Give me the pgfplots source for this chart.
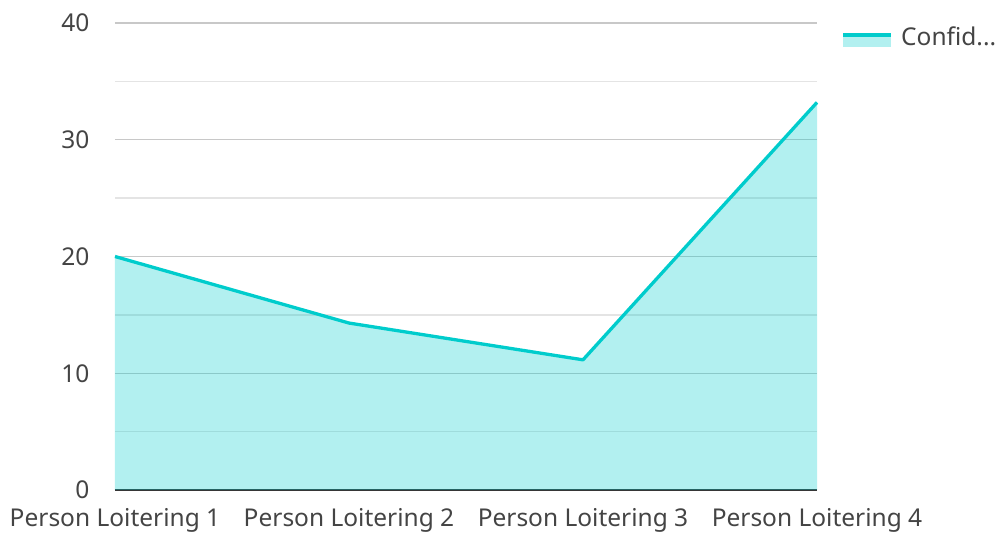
\documentclass[border=0pt]{standalone}
\usepackage{pgfplots}
\pgfplotsset{compat=1.18}
\usepackage{fontspec}
\setmainfont{Noto Sans}
\definecolor{linec}{RGB}{0,204,204}
\definecolor{txt}{RGB}{68,68,68}
\definecolor{majg}{RGB}{200,200,200}
\definecolor{ming}{RGB}{228,228,228}
\begin{document}
\begin{tikzpicture}[x=1pt,y=1pt]
\useasboundingbox (0,0) rectangle (999,533);
\begin{axis}[
  at={(115pt,43pt)}, anchor=south west,
  scale only axis, width=702pt, height=467pt,
  xmin=0, xmax=3, ymin=0, ymax=40,
  xtick={0,1,2,3},
  xticklabels={Person Loitering 1,Person Loitering 2,Person Loitering 3,Person Loitering 4},
  ytick={0,10,20,30,40},
  minor ytick={5,15,25,35},
  ymajorgrids, yminorgrids,
  major grid style={majg, line width=1.4pt},
  minor grid style={ming, line width=1.4pt},
  axis lines*=left,
  x axis line style={draw=txt!80!black, line width=1.6pt, -},
  y axis line style={draw=none},
  tick style={draw=none},
  ticklabel style={font=\fontsize{24.5}{29}\selectfont, text=txt},
  /pgf/number format/assume math mode=true,
  yticklabel style={xshift=-22pt},
  xticklabel style={yshift=-15pt},
  clip=false,
]
\addplot[draw=none, fill=linec, fill opacity=0.3] coordinates {(0,20) (1,14.3) (2,11.15) (3,33.2)} \closedcycle;
\addplot[linec, line width=3.3pt, line join=round] coordinates {(0,20) (1,14.3) (2,11.15) (3,33.2)};
\end{axis}
\fill[linec, opacity=0.3] (843,486) rectangle (891,498);
\draw[linec, line width=3.3pt] (843,498) -- (891,498);
\node[anchor=west, text=txt, font=\fontsize{24.5}{29}\selectfont, inner sep=0] at (901,497) {Confid...};
\end{tikzpicture}
\end{document}
